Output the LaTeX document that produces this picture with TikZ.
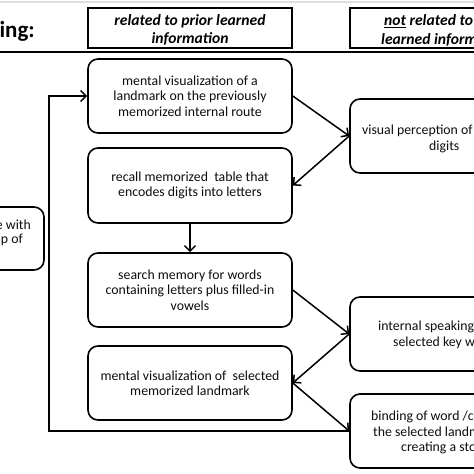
\documentclass[tikz,border=0pt]{standalone}
\usepackage{fontspec}
\setmainfont{Carlito}
\usetikzlibrary{arrows.meta}
\begin{document}
\begin{tikzpicture}[x=1pt,y=-1pt,
  box/.style={draw, line width=1.6pt, rounded corners=10pt, minimum width=204pt, inner sep=0pt},
  hbox/.style={draw, line width=1.6pt, minimum width=204pt, minimum height=40pt, inner sep=0pt},
  txt/.style={font=\fontsize{13.8}{15.3}\selectfont, align=center, text=black!95, inner sep=0pt},
  htxt/.style={font=\fontsize{15.6}{18.5}\selectfont\bfseries\itshape, align=center, text=black, inner sep=0pt},
  arr/.style={line width=1.5pt, -{Straight Barb[length=5.5pt,width=11pt,line width=1.5pt]}},
  ]
\useasboundingbox (0,0) rectangle (474,474);
\clip (0,0) rectangle (474,474);
\fill[white] (0,0) rectangle (474,474);
\draw[gray!25, line width=2pt] (0,1.5) -- (474,1.5);
% heading
\node[anchor=base east, font=\fontsize{23}{26}\selectfont\bfseries, text=black, inner sep=0pt] (head) at (35,37) {ing:};
\node[hbox] (H1) at (190,28) {};
\node[htxt] (H1t) at (190,30) {related to prior learned\\information};
\node[hbox] (H2) at (452,28) {};
\node[htxt, anchor=west] (H2a) at (384,21.5) {\underline{not} related to prior};
\node[htxt, anchor=west] (H2b) at (381,40) {learned information};
\draw[line width=1.6pt] (0,52) -- (474,52);
% left column
\node[box, minimum height=74pt, txt] (A) at (190,96) {mental visualization of a\\landmark on the previously\\memorized internal route};
\node[box, minimum height=75pt, txt] (B) at (190,185.5) {recall memorized\ \ table that\\encodes digits into letters};
\node[box, minimum height=74pt, txt] (C) at (190,290) {search memory for words\\containing letters plus filled-in\\vowels};
\node[box, minimum height=74pt, txt] (D) at (190,383) {mental visualization of\ \ selected\\memorized landmark};
% far left partial box
\node[box, minimum height=63pt] (L) at (-58,238.5) {};
\node[txt, anchor=east] (L1) at (31,225) {e with};
\node[txt, anchor=east] (L2) at (23,240) {p of};
% right column
\node[box, minimum height=74pt] (R1) at (452,136) {};
\node[txt, anchor=west] (R1a) at (362,131) {visual perception of};
\node[txt, anchor=west] (R1b) at (429,147) {digits};
\node[box, minimum height=74pt] (R2) at (452,334) {};
\node[txt, anchor=west] (R2a) at (378,327) {internal speaking of the};
\node[txt, anchor=west] (R2b) at (393,343) {selected key word};
\node[box, minimum height=74pt] (R3) at (452,431) {};
\node[txt, anchor=west] (R3a) at (371,417) {binding of word /character to};
\node[txt, anchor=west] (R3b) at (373,433) {the selected landmark by};
\node[txt, anchor=west] (R3c) at (401,448) {creating a story};
% connectors
\coordinate (lx) at (49,0);
\draw[arr] (A.east) -- (R1.west);
\draw[arr] (R1.west) -- (B.east);
\draw[arr] (B.south) -- (C.north);
\draw[arr] (C.east) -- (R2.west);
\draw[arr] (R2.west) -- (D.east);
\draw[arr] (D.east) -- (R3.west);
\draw[arr] (R3.west) -- (R3.west -| lx) |- (A.west);
\end{tikzpicture}
\end{document}
